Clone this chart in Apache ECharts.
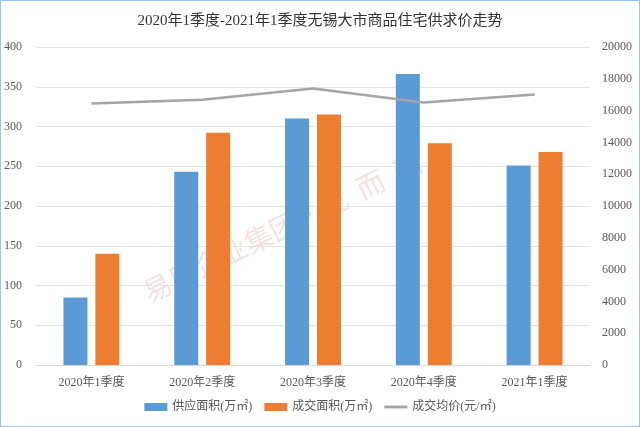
<!DOCTYPE html>
<html><head><meta charset="utf-8">
<script src="https://cdn.jsdelivr.net/npm/echarts@6/dist/echarts.min.js"></script>
<style>html,body{margin:0;padding:0;background:#fff}#c{width:640px;height:427px;box-sizing:border-box;border:1px solid #9dc3e6}</style>
</head><body><div id="c"></div>
<script>
var categories = ['2020年1季度','2020年2季度','2020年3季度','2020年4季度','2021年1季度'];
var supplyArea = [85, 243, 310, 366, 251];
var dealArea = [140, 292, 315, 279, 268];
var avgPrice = [16450, 16680, 17390, 16510, 17010];
var leftTicks = {min:0, max:400, interval:50};
var rightTicks = {min:0, max:20000, interval:2000};

var font = '"Liberation Serif","Noto Sans CJK SC",serif';
var chart = echarts.init(document.getElementById('c'));
chart.setOption({
  animation:false,
  title:{text:'2020年1季度-2021年1季度无锡大市商品住宅供求价走势', left:'center', top:8,
    textStyle:{fontFamily:font, fontSize:15, fontWeight:'normal', color:'#333'}},
  grid:{left:35, right:49, top:46, bottom:61},
  legend:{bottom:8, itemWidth:23, itemHeight:8, itemGap:12,
    textStyle:{fontFamily:font, fontSize:12, color:'#595959'},
    data:[{name:'供应面积(万㎡)', icon:'rect'},{name:'成交面积(万㎡)', icon:'rect'},
          {name:'成交均价(元/㎡)', icon:'path://M0,0L24,0L24,3L0,3Z', itemStyle:{color:'#a5a5a5'}}]},
  xAxis:{type:'category', data:categories,
    axisLine:{lineStyle:{color:'#d9d9d9'}}, axisTick:{show:false},
    axisLabel:{fontFamily:font, fontSize:12, color:'#595959', margin:12}},
  yAxis:[
    {type:'value', min:leftTicks.min, max:leftTicks.max, interval:leftTicks.interval,
     axisLabel:{fontFamily:font, fontSize:12, color:'#595959', margin:14},
     splitLine:{lineStyle:{color:'#e3e3e3'}}, axisLine:{show:false}, axisTick:{show:false}},
    {type:'value', min:rightTicks.min, max:rightTicks.max, interval:rightTicks.interval,
     axisLabel:{fontFamily:font, fontSize:12, color:'#595959', margin:12, formatter:function(v){return String(v);}},
     splitLine:{show:false}, axisLine:{show:false}, axisTick:{show:false}}
  ],
  series:[
    {name:'供应面积(万㎡)', type:'bar', data:supplyArea, barWidth:24, barGap:'33%', itemStyle:{color:'#5b9bd5'}},
    {name:'成交面积(万㎡)', type:'bar', data:dealArea, barWidth:24, itemStyle:{color:'#ed7d31'}},
    {name:'成交均价(元/㎡)', type:'line', yAxisIndex:1, data:avgPrice, symbol:'none',
     lineStyle:{color:'#a5a5a5', width:2.5}, itemStyle:{color:'#a5a5a5'}}
  ],
  graphic:[{type:'text', x:150, y:305, rotation:0.45, silent:true,
    style:{text:'易居企业集团·克  而  瑞', fontSize:28, fontFamily:'"Noto Sans CJK SC"', fill:'rgba(200,110,100,0.2)', verticalAlign:'bottom'}}]
});
</script></body></html>
